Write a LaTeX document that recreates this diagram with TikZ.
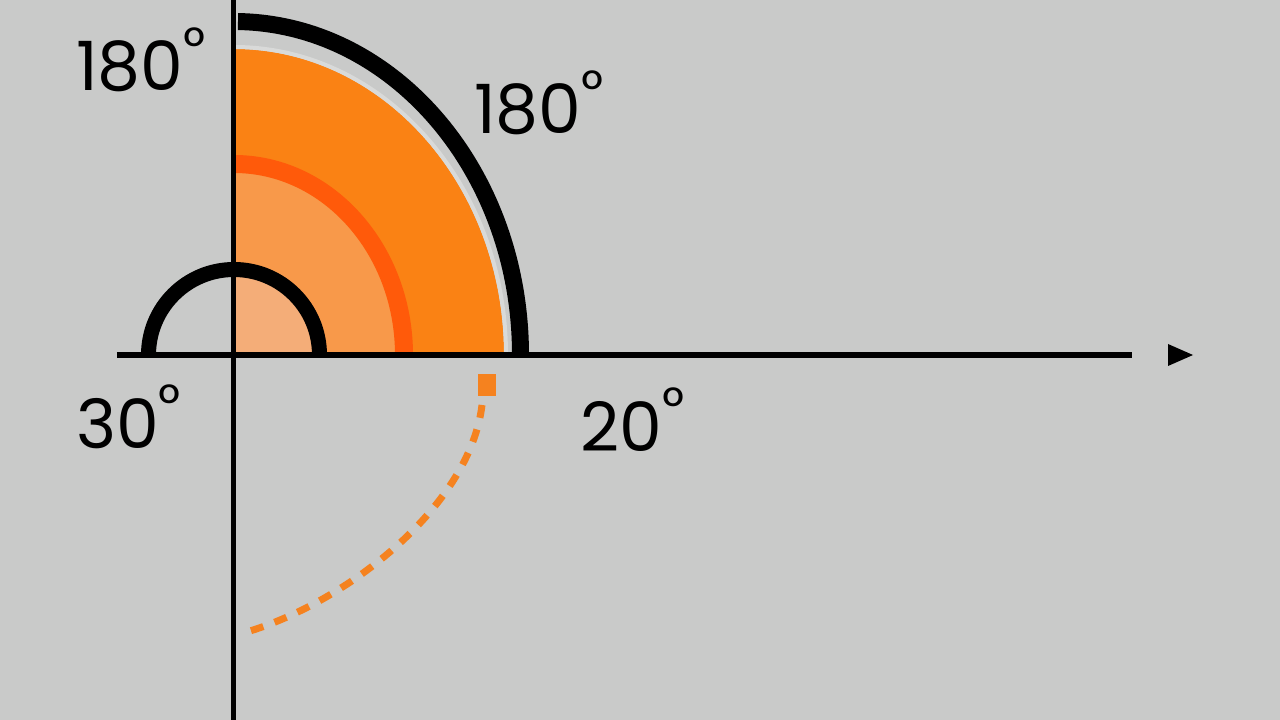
\documentclass[tikz,border=0pt]{standalone}
\usepackage{fontspec}
\setmainfont{Poppins}
\definecolor{bg}{HTML}{C9CAC9}
\definecolor{orOuter}{HTML}{FA8214}
\definecolor{orMid}{HTML}{F8994A}
\definecolor{orIn}{HTML}{F4AD78}
\definecolor{orRed}{HTML}{FF5A0A}
\definecolor{orDash}{HTML}{F5821F}
\definecolor{halo}{HTML}{D9DAD9}
\newcommand\dg{\raisebox{0.38em}{\fontsize{54}{54}\selectfont °}}
\tikzset{
  lbl/.style={inner sep=0pt, anchor=base west, font=\fontsize{68}{70}\selectfont, text=black},
  axis/.style={draw=black, line width=#1},
}
\begin{document}
\begin{tikzpicture}[x=1pt,y=1pt]
\useasboundingbox (-234,-365) rectangle (1046,355);
\fill[bg] (-234,-365) rectangle (1046,355);
% orange fills
\fill[orOuter] (0,0) -- (270,0) arc[start angle=0,end angle=90,x radius=270,y radius=306] -- cycle;
\draw[halo, line width=4] (272,0) arc[start angle=0,end angle=90,x radius=272,y radius=308];
\fill[orMid] (0,0) -- (170,0) arc[start angle=0,end angle=90,x radius=170,y radius=191] -- cycle;
\draw[orRed, line width=18] (170,0) arc[start angle=0,end angle=90,x radius=170,y radius=191];
\fill[orIn] (0,0) -- (85,0) arc[start angle=0,end angle=90,radius=85] -- cycle;
% black arcs
\draw[black, line width=15] (85.5,0) arc[start angle=0,end angle=180,radius=85.5];
\draw[black, line width=17] (286.5,0) arc[start angle=0,end angle=89.2,x radius=286.5,y radius=333.5];
% dashed curve
\fill[orDash] (244,-19) rectangle (262,-41);
\coordinate (ds) at (248,-50);
\coordinate (de) at (16,-276);
\draw[orDash, line width=7, dash pattern=on 13 off 12] (ds) .. controls (236,-150) and (116,-245) .. (de);
% axes
\coordinate (xl) at (-117,0);
\coordinate (xr) at (898,0);
\coordinate (yt) at (0,355);
\coordinate (yb) at (0,-365);
\draw[axis=6] (xl) -- (xr);
\draw[axis=5] (yt) -- (yb);
\fill[black] (934,11) -- (959,0) -- (934,-11) -- cycle;
% labels
\node[lbl] (a) at (-158,264) {180\dg};
\node[lbl] (b) at (240,221) {180\dg};
\node[lbl] (c) at (-158,-93) {30\dg};
\node[lbl] (d) at (346,-96) {20\dg};
\end{tikzpicture}
\end{document}
